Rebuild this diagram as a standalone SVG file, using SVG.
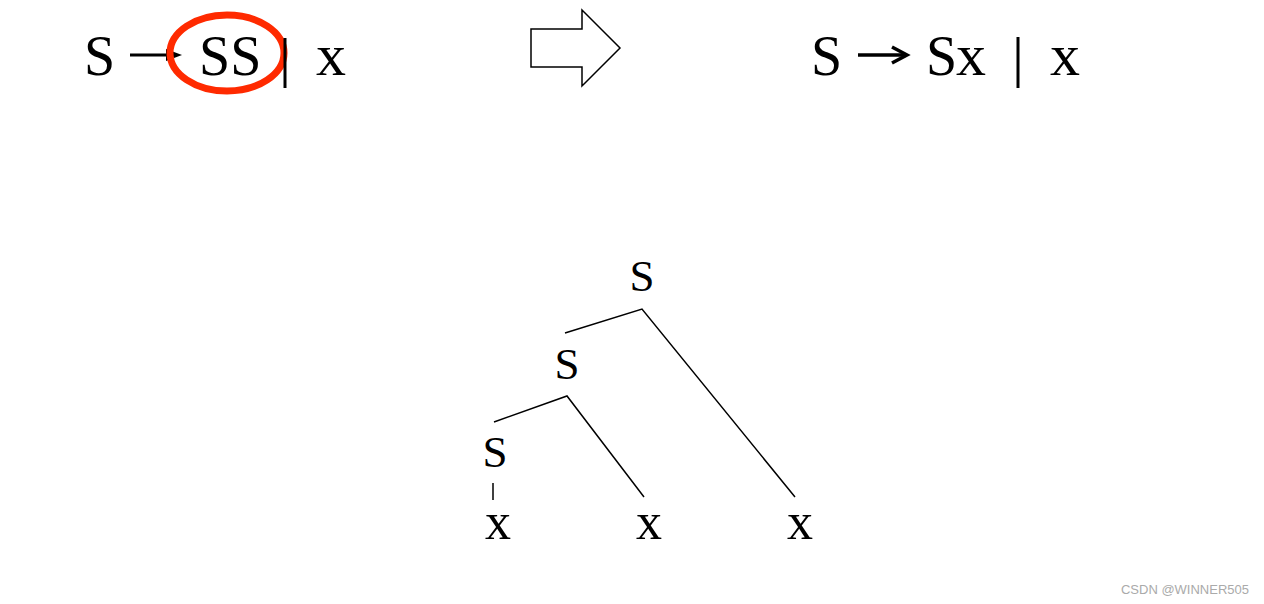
<svg xmlns="http://www.w3.org/2000/svg" width="1264" height="604" viewBox="0 0 1264 604">
<style>
.s{font-family:"Liberation Serif","Times New Roman",serif;fill:#000}
.x{font-family:"Liberation Serif","Times New Roman",serif;fill:#000}
.ln{stroke:#000;stroke-width:1.5;fill:none}
.bar{stroke:#000;stroke-width:3}
</style>
<rect width="1264" height="604" fill="#fff"/>
<g id="rule-left">
<text class="s" x="84" y="75" font-size="56">S</text>
<line x1="130" y1="55" x2="176" y2="55" stroke="#000" stroke-width="3"/>
<path d="M166 49 L182 55 L166 61 Z" fill="#000"/>
<text class="s" x="199" y="75" font-size="56">SS</text>
<ellipse cx="227" cy="53" rx="57" ry="38" fill="none" stroke="#ff2a00" stroke-width="7"/>
<line class="bar" x1="285" y1="38" x2="285" y2="88"/>
<text class="x" x="316" y="75" font-size="60">x</text>
</g>
<g id="block-arrow">
<path d="M531 29 L582 29 L582 10 L620 48 L582 86 L582 67 L531 67 Z" fill="#fff" stroke="#000" stroke-width="1.5"/>
</g>
<g id="rule-right">
<text class="s" x="811" y="75" font-size="56">S</text>
<line x1="858" y1="55" x2="904" y2="55" stroke="#000" stroke-width="3.5"/>
<path d="M892 47 L907 55 L892 63" fill="none" stroke="#000" stroke-width="3.5"/>
<text class="s" x="926" y="75" font-size="56">S</text>
<text class="x" x="956" y="75" font-size="60">x</text>
<line class="bar" x1="1018" y1="37" x2="1018" y2="88"/>
<text class="x" x="1050" y="75" font-size="60">x</text>
</g>
<g id="tree-connectors">
<polyline class="ln" points="565,333 642,309 795,497"/>
<polyline class="ln" points="494,422 567,396 644,497"/>
<line class="ln" x1="493" y1="483" x2="493" y2="500"/>
</g>
<g id="node-S1"><text class="s" x="642" y="291" font-size="45" text-anchor="middle">S</text></g>
<g id="node-S2"><text class="s" x="567" y="379" font-size="45" text-anchor="middle">S</text></g>
<g id="node-S3"><text class="s" x="495" y="467" font-size="45" text-anchor="middle">S</text></g>
<g id="node-x1"><text class="x" x="498" y="539" font-size="52" text-anchor="middle">x</text></g>
<g id="node-x2"><text class="x" x="649" y="539" font-size="52" text-anchor="middle">x</text></g>
<g id="node-x3"><text class="x" x="800" y="539" font-size="52" text-anchor="middle">x</text></g>
<text x="1249" y="594" font-family="Liberation Sans,Arial,sans-serif" font-size="13" fill="#aaa" text-anchor="end">CSDN @WINNER505</text>
</svg>
